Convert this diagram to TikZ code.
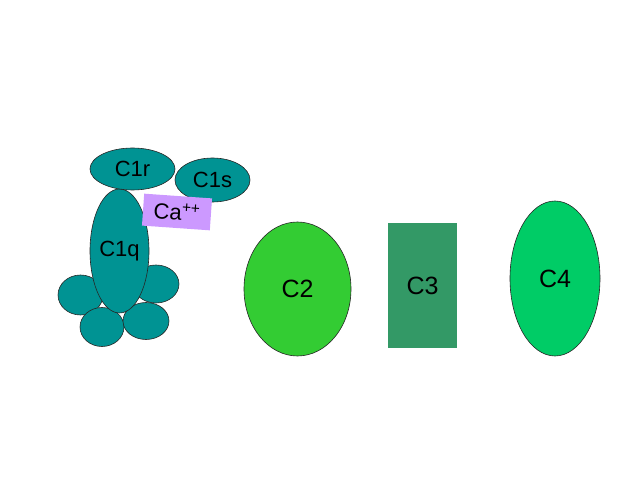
\documentclass[tikz,border=0pt]{standalone}
\usepackage{fontspec}
\setmainfont{Liberation Sans}
\usetikzlibrary{shapes.geometric}
\definecolor{cone}{HTML}{009393}
\definecolor{ctwo}{HTML}{33CC33}
\definecolor{cthree}{HTML}{339966}
\definecolor{cfour}{HTML}{00CC66}
\definecolor{capurple}{HTML}{CC99FF}
\tikzset{
  blob/.style={ellipse, draw=black!85, line width=0.6pt, inner sep=0pt},
  cbig/.style={font=\fontsize{25}{29}\selectfont},
  csmall/.style={font=\fontsize{22}{26}\selectfont},
}
\begin{document}
\begin{tikzpicture}[x=1pt,y=-1pt]
\useasboundingbox (0,0) rectangle (638,478);
% small C1 heads
\node[blob, fill=cone, minimum width=45, minimum height=40] (lo1) at (80.5,295) {};
\node[blob, fill=cone, minimum width=46, minimum height=38] (lo2) at (156,284) {};
\node[blob, fill=cone, minimum width=44, minimum height=39] (lo3) at (102,327) {};
\node[blob, fill=cone, minimum width=46, minimum height=37] (lo4) at (146,321) {};
% C1q
\node[blob, fill=cone, csmall, minimum width=59, minimum height=124] (c1q) at (119.5,251) {C1q};
% C1r, C1s
\node[blob, fill=cone, csmall, minimum width=85, minimum height=42] (c1r) at (132.5,169) {C1r};
\node[blob, fill=cone, csmall, minimum width=75, minimum height=44] (c1s) at (212.5,180) {C1s};
% Ca++
\node[rectangle, fill=capurple, rotate=-4, minimum width=68, minimum height=32, inner sep=0pt, csmall] (ca) at (177,212) {Ca\textsuperscript{++}\hspace{8pt}};
% C2, C3, C4
\node[blob, fill=ctwo, cbig, minimum width=107, minimum height=134] (c2) at (297.5,289) {C2};
\node[rectangle, fill=cthree, cbig, minimum width=69, minimum height=125, inner sep=0pt] (c3) at (422.5,285.5) {C3};
\node[blob, fill=cfour, cbig, minimum width=90, minimum height=155] (c4) at (555,278.5) {C4};
\end{tikzpicture}
\end{document}
